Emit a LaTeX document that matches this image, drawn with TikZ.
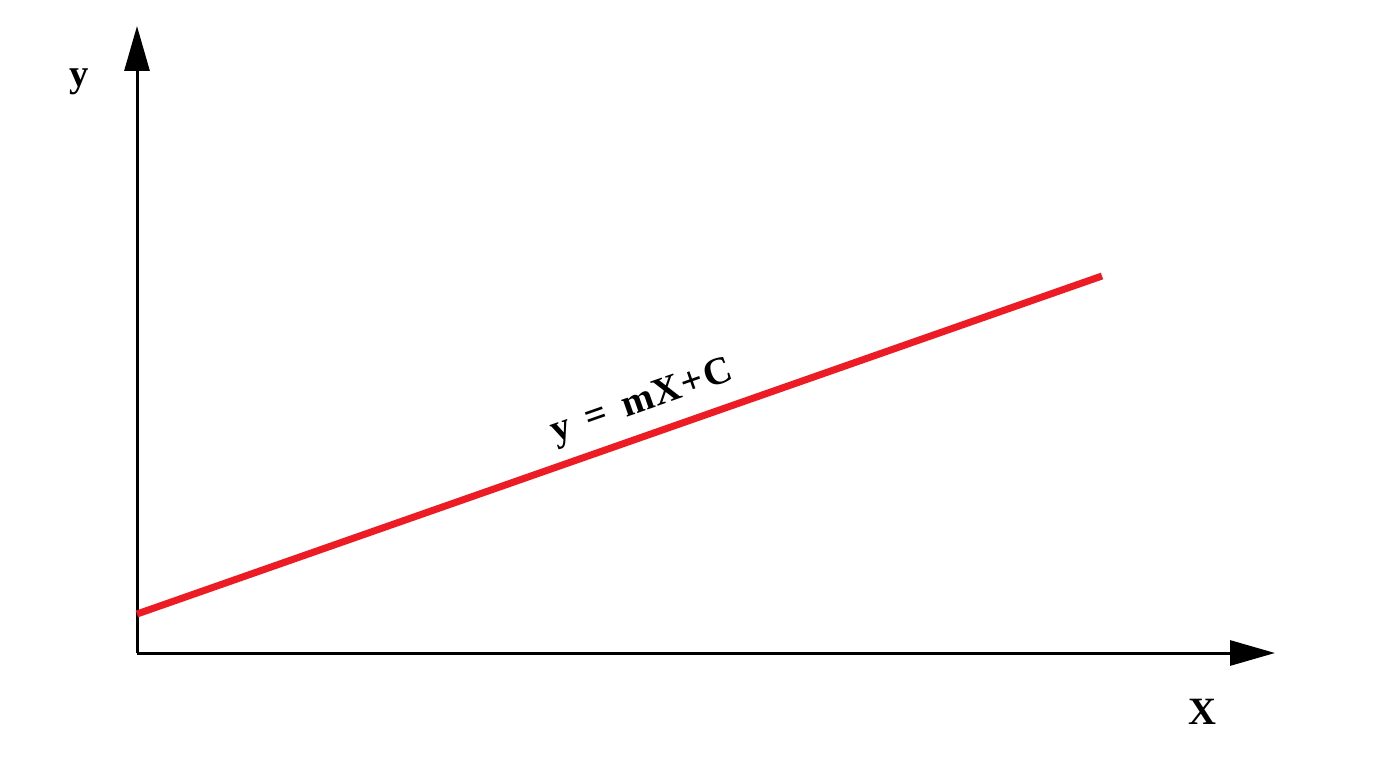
\documentclass[tikz,border=0pt]{standalone}
\usepackage{fontspec}
\setmainfont{Liberation Serif}
\usetikzlibrary{arrows.meta}
\definecolor{lred}{RGB}{237,28,36}
\tikzset{axis/.style={line width=0.06cm,-{Triangle[length=0.9cm,width=0.5cm]}},
lbl/.style={font=\fontsize{22}{24}\selectfont\bfseries,inner sep=0pt}}
\begin{document}
\begin{tikzpicture}[x=0.02cm,y=-0.02cm]
\useasboundingbox (0,0) rectangle (1400,767);
\coordinate (o) at (137,653);
\coordinate (ytip) at (137,26);
\coordinate (xtip) at (1275,653);
\coordinate (a) at (137,614);
\coordinate (b) at (1102,276);
\draw[axis] (o) -- (ytip);
\draw[axis] (o) -- (xtip);
\draw[lred,line width=0.14cm] (a) -- (b);
\node[lbl] (ly) at (79,82) {y};
\node[lbl] (lx) at (1202,712) {X};
\node[lbl,rotate=19.3] (eq) at (642,403) {y\hspace{0.45em}=\hspace{0.45em}mX\hspace{0.05em}+\hspace{0.05em}C};
\end{tikzpicture}
\end{document}
